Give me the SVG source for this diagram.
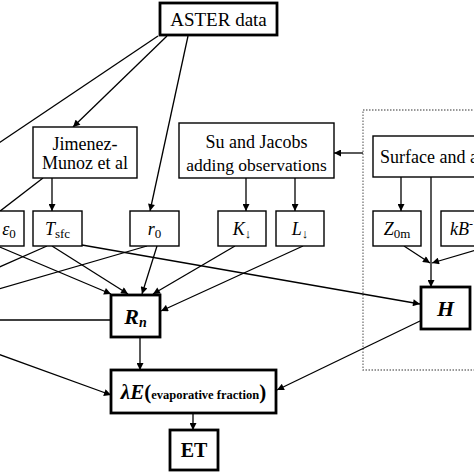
<svg xmlns="http://www.w3.org/2000/svg" width="474" height="474" viewBox="0 0 474 474">
<defs>
<marker id="ah" viewBox="0 0 10 10" refX="10" refY="5" markerWidth="8" markerHeight="7" orient="auto" markerUnits="userSpaceOnUse"><path d="M0,0 L10,5 L0,10 z" fill="#000"/></marker>
</defs>
<style>
.bx{fill:#fff;stroke:#000;stroke-width:1.4}
.bk{fill:#fff;stroke:#000;stroke-width:2.8}
.t{font-family:"Liberation Serif","Times New Roman",serif;fill:#000;text-anchor:middle}
.c line,.c path{stroke:#000;stroke-width:1.3;fill:none}
.a{marker-end:url(#ah)}
</style>
<rect width="474" height="474" fill="#fff"/>
<rect x="363" y="110" width="130" height="260" fill="none" stroke="#777" stroke-width="1.3" stroke-dasharray="1.5,1.5"/>
<g class="c" id="connectors">
<line x1="158" y1="36" x2="-10" y2="149"/>
<line class="a" x1="167" y1="36" x2="73" y2="127"/>
<line class="a" x1="188" y1="36" x2="150" y2="211"/>
<line x1="43" y1="178" x2="-5" y2="215"/>
<line class="a" x1="52" y1="178" x2="52" y2="211"/>
<line class="a" x1="246" y1="178" x2="246" y2="211"/>
<line class="a" x1="295" y1="178" x2="295" y2="211"/>
<line class="a" x1="363" y1="153" x2="334" y2="153"/>
<line class="a" x1="401" y1="177" x2="401" y2="211"/>
<line class="a" x1="431" y1="177" x2="431" y2="287"/>
<line class="a" x1="404" y1="246" x2="430" y2="263"/>
<line class="a" x1="476" y1="250" x2="432" y2="263"/>
<line class="a" x1="-5" y1="245" x2="111" y2="294"/>
<line x1="47" y1="246" x2="-5" y2="269"/>
<line class="a" x1="52" y1="246" x2="128" y2="294"/>
<line class="a" x1="82" y1="245" x2="420" y2="304"/>
<line x1="147" y1="246" x2="-5" y2="290"/>
<line class="a" x1="157" y1="246" x2="142" y2="294"/>
<line class="a" x1="235" y1="246" x2="153" y2="294"/>
<line class="a" x1="303" y1="246" x2="161" y2="311"/>
<line x1="-5" y1="320" x2="111" y2="320"/>
<line class="a" x1="140" y1="337" x2="140" y2="370"/>
<line class="a" x1="-5" y1="353" x2="111" y2="395"/>
<line class="a" x1="420" y1="321" x2="277" y2="390"/>
<line class="a" x1="193" y1="413" x2="193" y2="430"/>
</g>
<g id="aster"><rect class="bk" x="160" y="3" width="117" height="32"/><text class="t" x="218.5" y="26" font-size="19">ASTER data</text></g>
<g id="jimenez"><rect class="bx" x="33" y="127" width="104" height="51"/><text class="t" x="85" y="150" font-size="18">Jimenez-</text><text class="t" x="85" y="169" font-size="18">Munoz et al</text></g>
<g id="su"><rect class="bx" x="179" y="123" width="155" height="55"/><text class="t" x="256.5" y="148" font-size="18">Su and Jacobs</text><text class="t" x="256.5" y="171" font-size="17.5">adding observations</text></g>
<g id="surface"><rect class="bx" x="373" y="136" width="120" height="41"/><text class="t" x="380" y="163" font-size="18" text-anchor="start" style="text-anchor:start">Surface and atmosphere</text></g>
<g id="eps0"><rect class="bx" x="-30" y="211" width="54" height="35"/><text class="t" x="9" y="235" font-size="18"><tspan font-style="italic">ε</tspan><tspan font-size="13" dy="3">0</tspan></text></g>
<g id="tsfc"><rect class="bx" x="33" y="211" width="49" height="35"/><text class="t" x="57.5" y="235" font-size="18"><tspan font-style="italic">T</tspan><tspan font-size="13" dy="3">sfc</tspan></text></g>
<g id="r0"><rect class="bx" x="130" y="211" width="49" height="35"/><text class="t" x="154.5" y="235" font-size="18"><tspan font-style="italic">r</tspan><tspan font-size="13" dy="3">0</tspan></text></g>
<g id="kdown"><rect class="bx" x="218" y="211" width="48" height="35"/><text class="t" x="242" y="235" font-size="18"><tspan font-style="italic">K</tspan><tspan font-size="13" dy="3">↓</tspan></text></g>
<g id="ldown"><rect class="bx" x="276" y="211" width="48" height="35"/><text class="t" x="300" y="235" font-size="18"><tspan font-style="italic">L</tspan><tspan font-size="13" dy="3">↓</tspan></text></g>
<g id="z0m"><rect class="bx" x="373" y="211" width="48" height="35"/><text class="t" x="397" y="235" font-size="18"><tspan font-style="italic">Z</tspan><tspan font-size="13" dy="3">0m</tspan></text></g>
<g id="kb"><rect class="bx" x="441" y="211" width="60" height="35"/><text class="t" x="450" y="235" font-size="18" style="text-anchor:start"><tspan font-style="italic">kB</tspan><tspan font-size="12" dy="-7">-1</tspan></text></g>
<g id="rn"><rect class="bk" x="111" y="295" width="49" height="42"/><text class="t" x="135.5" y="324" font-size="22" font-weight="bold" font-style="italic">R<tspan font-size="14" dy="3">n</tspan></text></g>
<g id="h"><rect class="bk" x="421" y="287" width="49" height="42"/><text class="t" x="445.5" y="316" font-size="22" font-weight="bold" font-style="italic">H</text></g>
<g id="le"><rect class="bk" x="111" y="370" width="165" height="43"/><text class="t" x="193.5" y="399" font-weight="bold"><tspan font-size="21" font-style="italic">λE</tspan><tspan font-size="21">(</tspan><tspan font-size="12.5">evaporative fraction</tspan><tspan font-size="21">)</tspan></text></g>
<g id="et"><rect class="bk" x="170" y="430" width="48" height="40"/><text class="t" x="194" y="457" font-size="20" font-weight="bold">ET</text></g>
</svg>
